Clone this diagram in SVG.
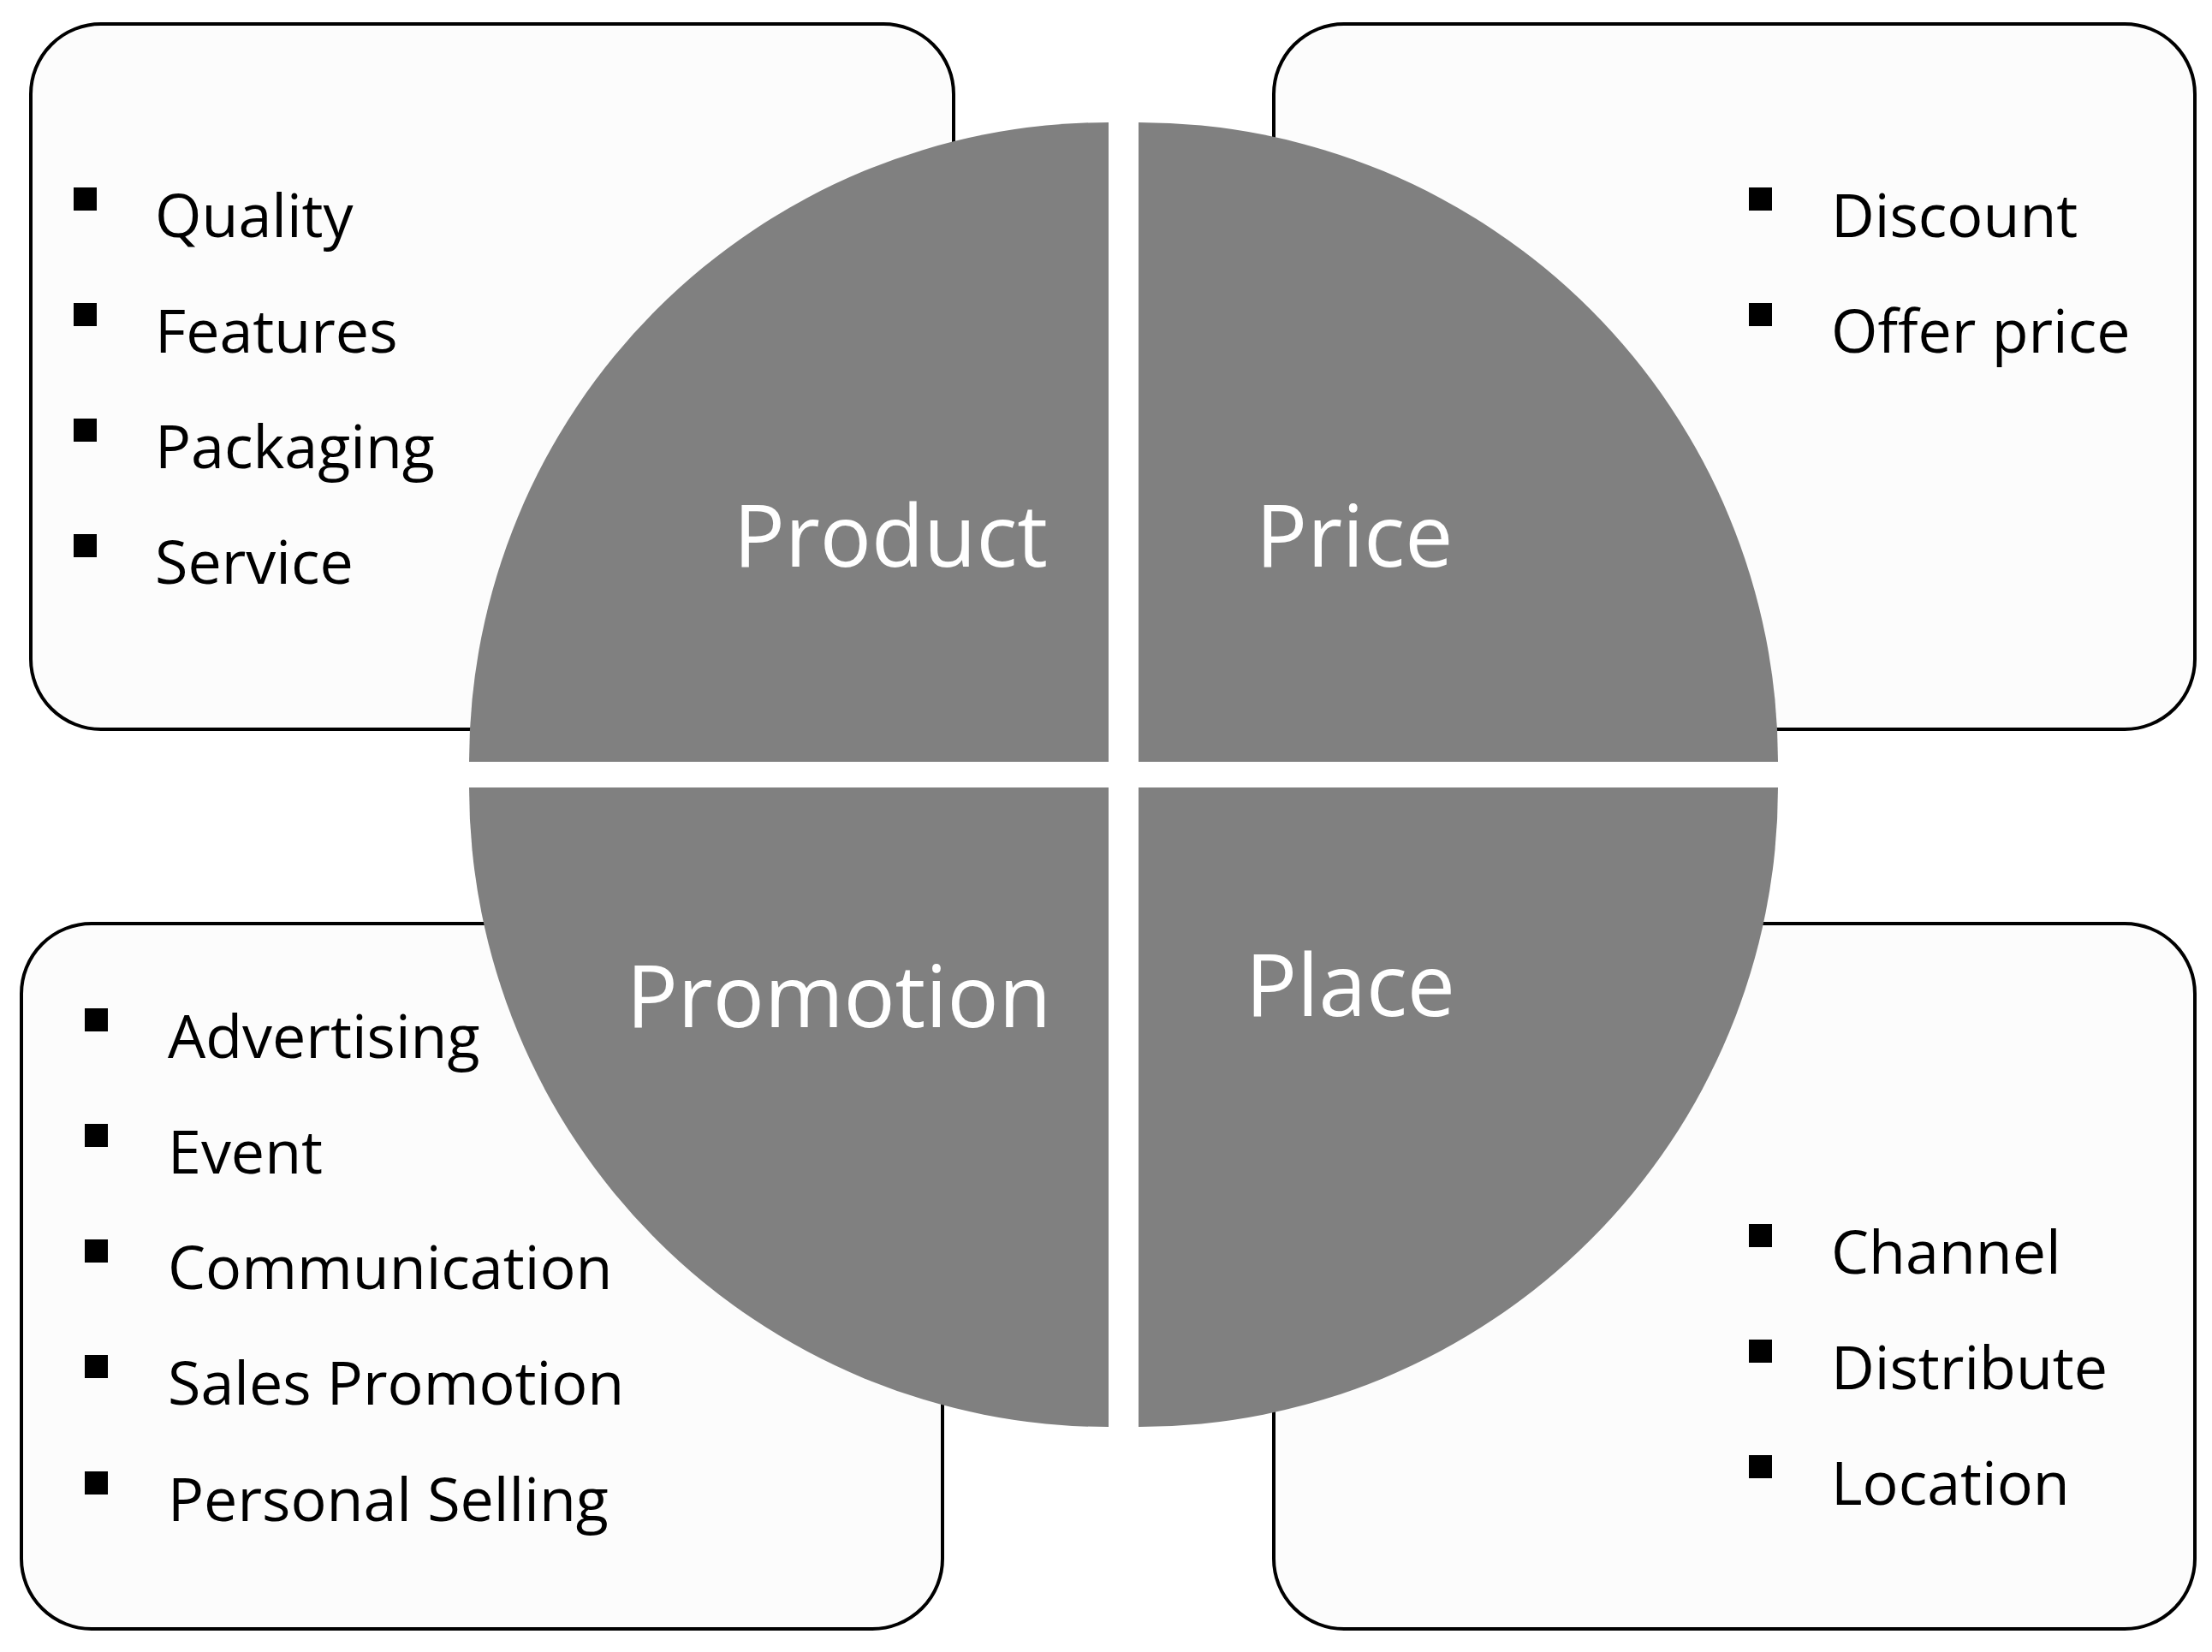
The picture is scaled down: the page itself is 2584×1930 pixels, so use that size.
<svg xmlns="http://www.w3.org/2000/svg" width="2584" height="1930" viewBox="0 0 2584 1930">
<style>
.box{fill:#fcfcfc;stroke:#000;stroke-width:4}
.q{fill:#808080}
.t{font-family:"Open Sans","Noto Sans",sans-serif;font-size:70px;fill:#000}
.l{font-family:"Open Sans","Noto Sans",sans-serif;font-size:100px;fill:#fff}
.b{fill:#000}
</style>
<rect width="2584" height="1930" fill="#fff"/>
<g id="box-product"><rect class="box" x="36" y="28" width="1078" height="824" rx="82"/>
<rect class="b" x="86" y="219" width="27" height="27"/><text class="t" x="181" y="277">Quality</text>
<rect class="b" x="86" y="354" width="27" height="27"/><text class="t" x="181" y="412">Features</text>
<rect class="b" x="86" y="489" width="27" height="27"/><text class="t" x="181" y="547">Packaging</text>
<rect class="b" x="86" y="624" width="27" height="27"/><text class="t" x="181" y="682">Service</text></g>
<g id="box-price"><rect class="box" x="1488" y="28" width="1076" height="824" rx="82"/>
<rect class="b" x="2043" y="219" width="27" height="27"/><text class="t" x="2139" y="277">Discount</text>
<rect class="b" x="2043" y="354" width="27" height="27"/><text class="t" x="2139" y="412">Offer price</text></g>
<g id="box-promotion"><rect class="box" x="25" y="1079" width="1076" height="824" rx="82"/>
<rect class="b" x="99" y="1178" width="27" height="27"/><text class="t" x="196" y="1236">Advertising</text>
<rect class="b" x="99" y="1313" width="27" height="27"/><text class="t" x="196" y="1371">Event</text>
<rect class="b" x="99" y="1448" width="27" height="27"/><text class="t" x="196" y="1506">Communication</text>
<rect class="b" x="99" y="1583" width="27" height="27"/><text class="t" x="196" y="1641">Sales Promotion</text>
<rect class="b" x="99" y="1719" width="27" height="27"/><text class="t" x="196" y="1777">Personal Selling</text></g>
<g id="box-place"><rect class="box" x="1488" y="1079" width="1076" height="824" rx="82"/>
<rect class="b" x="2043" y="1430" width="27" height="27"/><text class="t" x="2139" y="1488">Channel</text>
<rect class="b" x="2043" y="1565" width="27" height="27"/><text class="t" x="2139" y="1623">Distribute</text>
<rect class="b" x="2043" y="1700" width="27" height="27"/><text class="t" x="2139" y="1758">Location</text></g>
<g id="product"><path class="q" d="M1295 890 L548 890 A747 747 0 0 1 1295 143 Z"/><text class="l" x="1224" y="662" text-anchor="end">Product</text></g>
<g id="price"><path class="q" d="M1330 890 L1330 143 A747 747 0 0 1 2077 890 Z"/><text class="l" x="1467" y="662">Price</text></g>
<g id="promotion"><path class="q" d="M1295 920 L1295 1667 A747 747 0 0 1 548 920 Z"/><text class="l" x="1228" y="1200" text-anchor="end">Promotion</text></g>
<g id="place"><path class="q" d="M1330 920 L2077 920 A747 747 0 0 1 1330 1667 Z"/><text class="l" x="1455" y="1187">Place</text></g>
<g id="connectors"/>
</svg>
